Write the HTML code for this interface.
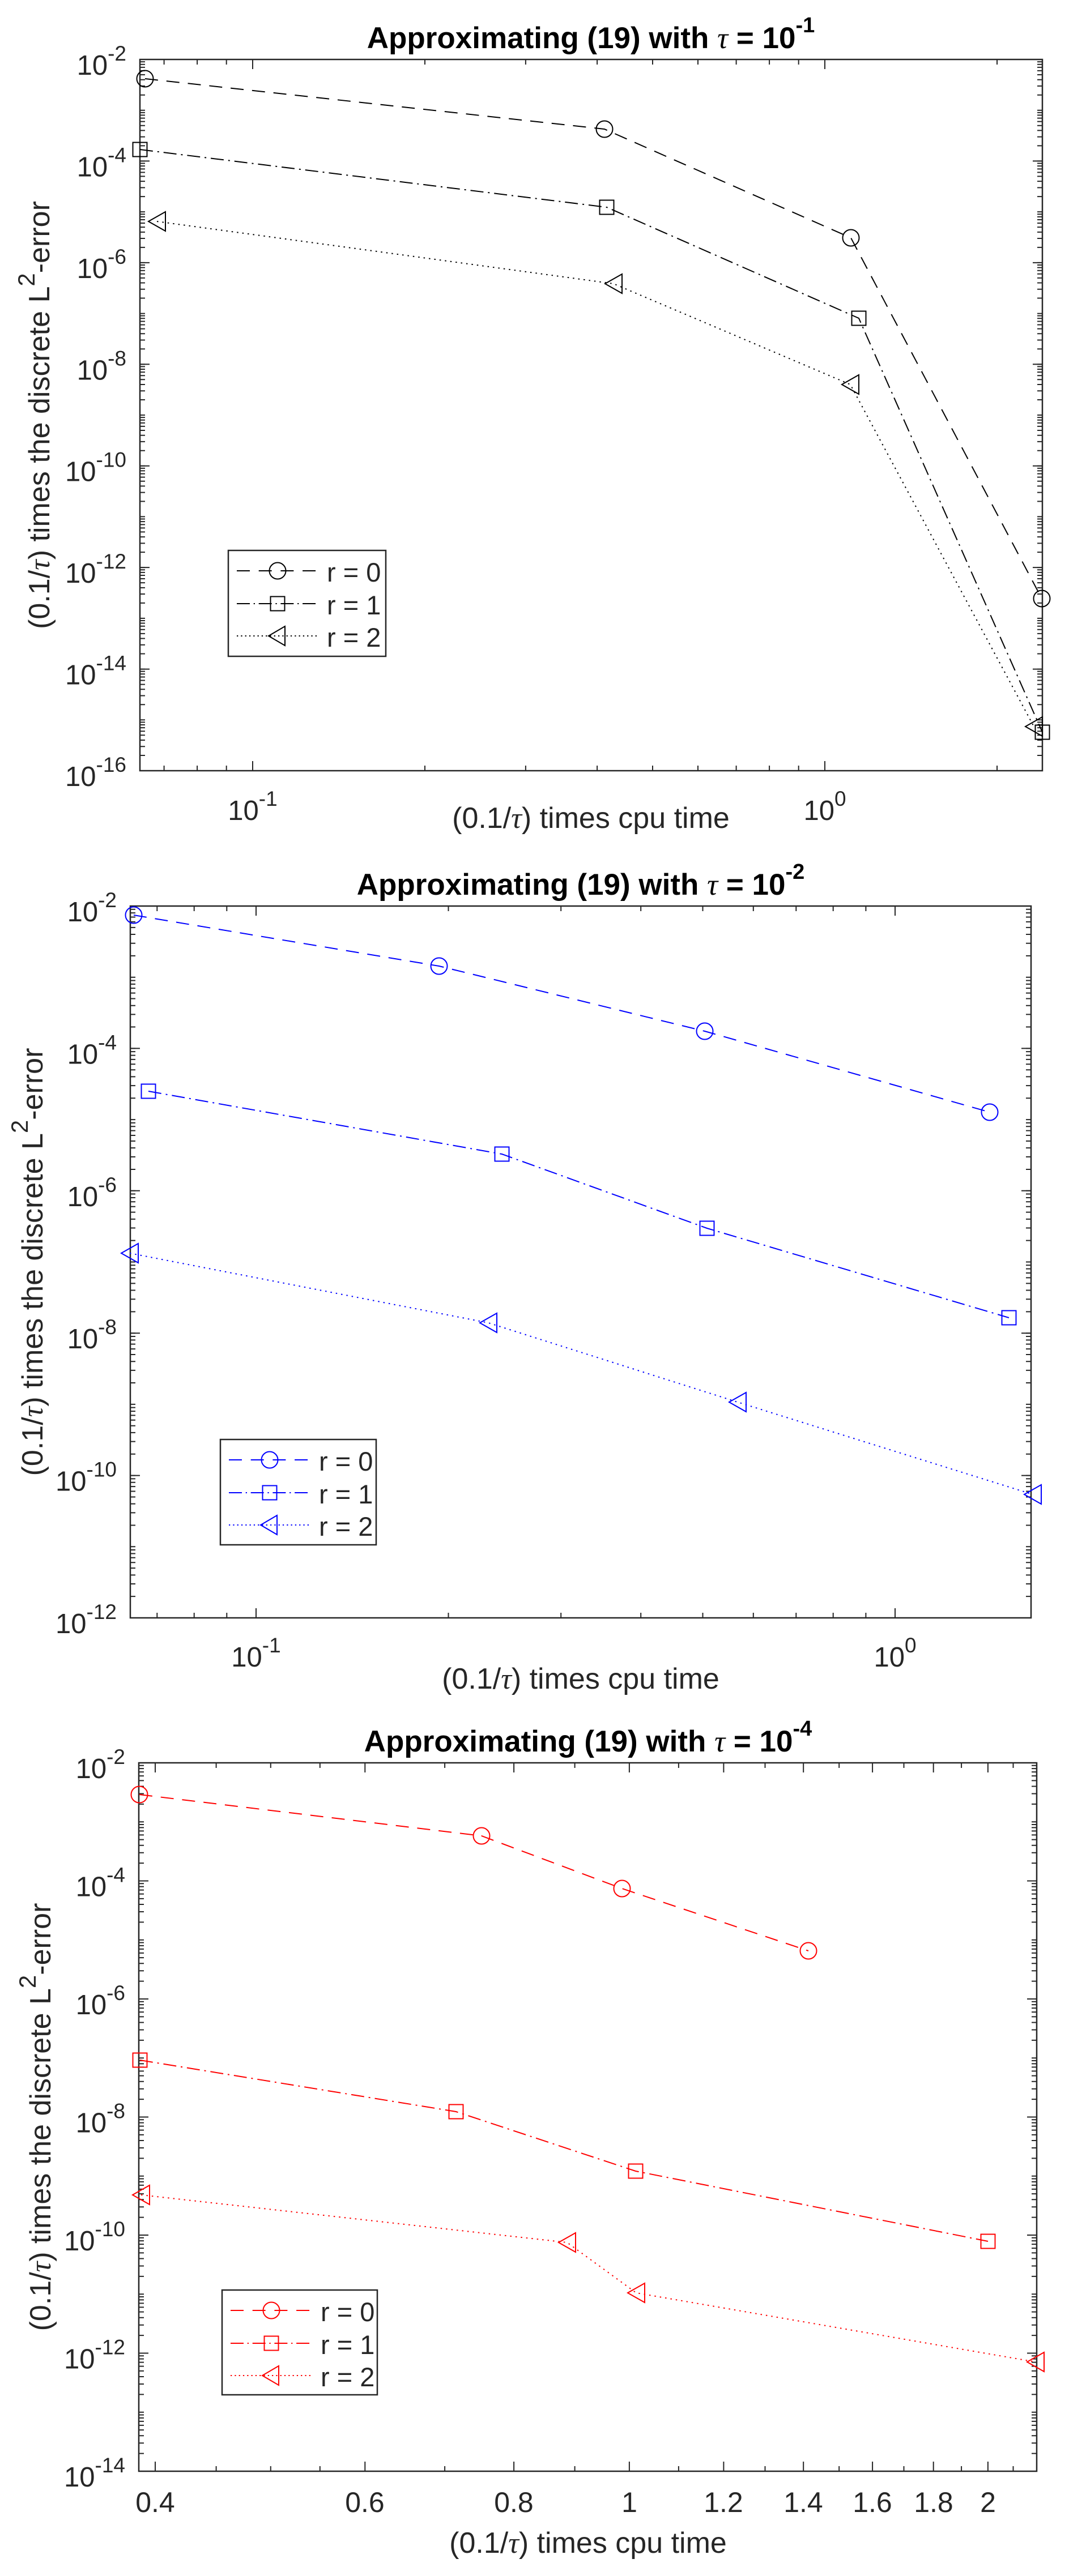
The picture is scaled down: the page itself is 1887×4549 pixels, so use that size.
<!DOCTYPE html>
<html><head><meta charset="utf-8"><style>
html,body{margin:0;padding:0;background:#fff;}
svg{display:block;}
text{font-family:"Liberation Sans",Arial,sans-serif;fill:#262626;}
.t{font-weight:bold;fill:#000;font-size:53px;}
.g{font-family:"Liberation Serif",serif;font-style:italic;font-weight:normal;}
.tk{font-size:49px;}
.lb{font-size:52px;}
.lg{font-size:47px;}
</style></head><body>
<svg xmlns="http://www.w3.org/2000/svg" xmlns:xlink="http://www.w3.org/1999/xlink" width="1887" height="4549" viewBox="0 0 1887 4549">
<defs>
<path id="y1m" d="M247 0h9M1840 0h-9M247 -27.01h9M1840 -27.01h-9M247 -42.80h9M1840 -42.80h-9M247 -54.01h9M1840 -54.01h-9M247 -62.71h9M1840 -62.71h-9M247 -69.81h9M1840 -69.81h-9M247 -75.82h9M1840 -75.82h-9M247 -81.02h9M1840 -81.02h-9M247 -85.61h9M1840 -85.61h-9" stroke="#262626" stroke-width="2" fill="none"/>
<path id="y2m" d="M230 0h9M1820 0h-9M230 -37.84h9M1820 -37.84h-9M230 -59.97h9M1820 -59.97h-9M230 -75.68h9M1820 -75.68h-9M230 -87.86h9M1820 -87.86h-9M230 -97.81h9M1820 -97.81h-9M230 -106.23h9M1820 -106.23h-9M230 -113.52h9M1820 -113.52h-9M230 -119.95h9M1820 -119.95h-9" stroke="#262626" stroke-width="2" fill="none"/>
<path id="y3m" d="M245 0h9M1830 0h-9M245 -31.38h9M1830 -31.38h-9M245 -49.74h9M1830 -49.74h-9M245 -62.76h9M1830 -62.76h-9M245 -72.87h9M1830 -72.87h-9M245 -81.12h9M1830 -81.12h-9M245 -88.10h9M1830 -88.10h-9M245 -94.15h9M1830 -94.15h-9M245 -99.48h9M1830 -99.48h-9" stroke="#262626" stroke-width="2" fill="none"/>
</defs>

<!-- ================= PLOT 1 ================= -->
<g>
<use xlink:href="#y1m" href="#y1m" y="1361"/>
<use xlink:href="#y1m" href="#y1m" y="1271.29"/>
<use xlink:href="#y1m" href="#y1m" y="1181.57"/>
<use xlink:href="#y1m" href="#y1m" y="1091.86"/>
<use xlink:href="#y1m" href="#y1m" y="1002.14"/>
<use xlink:href="#y1m" href="#y1m" y="912.43"/>
<use xlink:href="#y1m" href="#y1m" y="822.71"/>
<use xlink:href="#y1m" href="#y1m" y="733"/>
<use xlink:href="#y1m" href="#y1m" y="643.29"/>
<use xlink:href="#y1m" href="#y1m" y="553.57"/>
<use xlink:href="#y1m" href="#y1m" y="463.86"/>
<use xlink:href="#y1m" href="#y1m" y="374.14"/>
<use xlink:href="#y1m" href="#y1m" y="284.43"/>
<use xlink:href="#y1m" href="#y1m" y="194.71"/>
<path stroke="#262626" stroke-width="2" fill="none" d="M247 105h17M1840 105h-17M247 284.43h17M1840 284.43h-17M247 463.86h17M1840 463.86h-17M247 643.29h17M1840 643.29h-17M247 822.71h17M1840 822.71h-17M247 1002.14h17M1840 1002.14h-17M247 1181.57h17M1840 1181.57h-17
M289.6 1361v-9M289.6 105v9M348.1 1361v-9M348.1 105v9M399.7 1361v-9M399.7 105v9M750 1361v-9M750 105v9M927.9 1361v-9M927.9 105v9M1054.1 1361v-9M1054.1 105v9M1152 1361v-9M1152 105v9M1232 1361v-9M1232 105v9M1299.6 1361v-9M1299.6 105v9M1358.1 1361v-9M1358.1 105v9M1409.7 1361v-9M1409.7 105v9M1760 1361v-9M1760 105v9
M446 1361v-17M446 105v17M1456 1361v-17M1456 105v17"/>
<rect x="247" y="105" width="1593" height="1256" fill="none" stroke="#262626" stroke-width="2.5"/>

<text class="tk" x="223" y="132" text-anchor="end">10<tspan font-size="37" dy="-25">-2</tspan></text>
<text class="tk" x="223" y="311.4" text-anchor="end">10<tspan font-size="37" dy="-25">-4</tspan></text>
<text class="tk" x="223" y="490.9" text-anchor="end">10<tspan font-size="37" dy="-25">-6</tspan></text>
<text class="tk" x="223" y="670.3" text-anchor="end">10<tspan font-size="37" dy="-25">-8</tspan></text>
<text class="tk" x="223" y="849.7" text-anchor="end">10<tspan font-size="37" dy="-25">-10</tspan></text>
<text class="tk" x="223" y="1029.1" text-anchor="end">10<tspan font-size="37" dy="-25">-12</tspan></text>
<text class="tk" x="223" y="1208.6" text-anchor="end">10<tspan font-size="37" dy="-25">-14</tspan></text>
<text class="tk" x="223" y="1388" text-anchor="end">10<tspan font-size="37" dy="-25">-16</tspan></text>
<text class="tk" x="446" y="1448" text-anchor="middle">10<tspan font-size="37" dy="-25">-1</tspan></text>
<text class="tk" x="1456" y="1448" text-anchor="middle">10<tspan font-size="37" dy="-25">0</tspan></text>

<text class="t" x="1043" y="85" text-anchor="middle">Approximating (19) with <tspan class="g">τ</tspan> = 10<tspan font-size="38" dy="-28">-1</tspan></text>
<text class="lb" x="1043" y="1462" text-anchor="middle">(0.1/<tspan class="g">τ</tspan>) times cpu time</text>
<text class="lb" transform="translate(87,733) rotate(-90)" text-anchor="middle">(0.1/<tspan class="g">τ</tspan>) times the discrete L<tspan font-size="42" dy="-26">2</tspan><tspan dy="26">-error</tspan></text>

<g fill="none" stroke="#000" stroke-width="2">
<polyline points="256,139 1067,228 1502,420 1839,1057" stroke-dasharray="23 15"/>
<polyline points="247,264 1071,366 1516,562 1840,1293" stroke-dasharray="23 8 3 8"/>
<polyline points="277,391 1083,501 1501,679 1825,1283" stroke-dasharray="2.5 7"/>
<circle cx="256" cy="139" r="14.5"/><circle cx="1067" cy="228" r="14.5"/><circle cx="1502" cy="420" r="14.5"/><circle cx="1839" cy="1057" r="14.5"/>
<rect x="234.5" y="251.5" width="25" height="25"/><rect x="1058.5" y="353.5" width="25" height="25"/><rect x="1503.5" y="549.5" width="25" height="25"/><rect x="1827.5" y="1280.5" width="25" height="25"/>
<polygon points="262,391 292,374 292,408"/><polygon points="1068,501 1098,484 1098,518"/><polygon points="1486,679 1516,662 1516,696"/><polygon points="1810,1283 1840,1266 1840,1300"/>
</g>

<rect x="403" y="972" width="278" height="187" fill="#fff" stroke="#262626" stroke-width="2.5"/>
<g fill="none" stroke="#000" stroke-width="2">
<line x1="418" y1="1008" x2="560" y2="1008" stroke-dasharray="23 15.7"/>
<circle cx="490" cy="1008" r="14.5"/>
<line x1="418" y1="1066" x2="560" y2="1066" stroke-dasharray="23 6.7 2.3 6.7"/>
<rect x="477.5" y="1053.5" width="25" height="25"/>
<line x1="418" y1="1123" x2="560" y2="1123" stroke-dasharray="2.3 5"/>
<polygon points="474,1123 503,1106 503,1140"/>
</g>
<text class="lg" x="577" y="1027">r = 0</text>
<text class="lg" x="577" y="1085">r = 1</text>
<text class="lg" x="577" y="1142">r = 2</text>
</g>

<!-- ================= PLOT 2 ================= -->
<g>
<use xlink:href="#y2m" href="#y2m" y="2857"/>
<use xlink:href="#y2m" href="#y2m" y="2731.3"/>
<use xlink:href="#y2m" href="#y2m" y="2605.6"/>
<use xlink:href="#y2m" href="#y2m" y="2479.9"/>
<use xlink:href="#y2m" href="#y2m" y="2354.2"/>
<use xlink:href="#y2m" href="#y2m" y="2228.5"/>
<use xlink:href="#y2m" href="#y2m" y="2102.8"/>
<use xlink:href="#y2m" href="#y2m" y="1977.1"/>
<use xlink:href="#y2m" href="#y2m" y="1851.4"/>
<use xlink:href="#y2m" href="#y2m" y="1725.7"/>
<path stroke="#262626" stroke-width="2" fill="none" d="M230 1600h17M1820 1600h-17M230 1851.4h17M1820 1851.4h-17M230 2102.8h17M1820 2102.8h-17M230 2354.2h17M1820 2354.2h-17M230 2605.6h17M1820 2605.6h-17
M277.3 2857v-9M277.3 1600v9M342.7 2857v-9M342.7 1600v9M400.3 2857v-9M400.3 1600v9M791.5 2857v-9M791.5 1600v9M990.2 2857v-9M990.2 1600v9M1131.2 2857v-9M1131.2 1600v9M1240.5 2857v-9M1240.5 1600v9M1329.8 2857v-9M1329.8 1600v9M1405.3 2857v-9M1405.3 1600v9M1470.7 2857v-9M1470.7 1600v9M1528.4 2857v-9M1528.4 1600v9
M452 2857v-17M452 1600v17M1580 2857v-17M1580 1600v17"/>
<rect x="230" y="1600" width="1590" height="1257" fill="none" stroke="#262626" stroke-width="2.5"/>

<text class="tk" x="206" y="1627" text-anchor="end">10<tspan font-size="37" dy="-25">-2</tspan></text>
<text class="tk" x="206" y="1878.4" text-anchor="end">10<tspan font-size="37" dy="-25">-4</tspan></text>
<text class="tk" x="206" y="2129.8" text-anchor="end">10<tspan font-size="37" dy="-25">-6</tspan></text>
<text class="tk" x="206" y="2381.2" text-anchor="end">10<tspan font-size="37" dy="-25">-8</tspan></text>
<text class="tk" x="206" y="2632.6" text-anchor="end">10<tspan font-size="37" dy="-25">-10</tspan></text>
<text class="tk" x="206" y="2884" text-anchor="end">10<tspan font-size="37" dy="-25">-12</tspan></text>
<text class="tk" x="452" y="2943" text-anchor="middle">10<tspan font-size="37" dy="-25">-1</tspan></text>
<text class="tk" x="1580" y="2943" text-anchor="middle">10<tspan font-size="37" dy="-25">0</tspan></text>

<text class="t" x="1025" y="1580" text-anchor="middle">Approximating (19) with <tspan class="g">τ</tspan> = 10<tspan font-size="38" dy="-28">-2</tspan></text>
<text class="lb" x="1025" y="2982" text-anchor="middle">(0.1/<tspan class="g">τ</tspan>) times cpu time</text>
<text class="lb" transform="translate(75,2228.5) rotate(-90)" text-anchor="middle">(0.1/<tspan class="g">τ</tspan>) times the discrete L<tspan font-size="42" dy="-26">2</tspan><tspan dy="26">-error</tspan></text>

<g fill="none" stroke="#0000ff" stroke-width="2">
<polyline points="236,1616 775,1706 1244,1821 1747,1964" stroke-dasharray="23 15"/>
<polyline points="262,1927 886,2038 1248,2169 1781,2327" stroke-dasharray="23 8 3 8"/>
<polyline points="229,2213 862,2336 1302,2476 1823,2639" stroke-dasharray="2.5 7"/>
<circle cx="236" cy="1616" r="14.5"/><circle cx="775" cy="1706" r="14.5"/><circle cx="1244" cy="1821" r="14.5"/><circle cx="1747" cy="1964" r="14.5"/>
<rect x="249.5" y="1914.5" width="25" height="25"/><rect x="873.5" y="2025.5" width="25" height="25"/><rect x="1235.5" y="2156.5" width="25" height="25"/><rect x="1768.5" y="2314.5" width="25" height="25"/>
<polygon points="214,2213 244,2196 244,2230"/><polygon points="847,2336 877,2319 877,2353"/><polygon points="1287,2476 1317,2459 1317,2493"/><polygon points="1808,2639 1838,2622 1838,2656"/>
</g>

<rect x="389" y="2542" width="275" height="186" fill="#fff" stroke="#262626" stroke-width="2.5"/>
<g fill="none" stroke="#0000ff" stroke-width="2">
<line x1="404" y1="2578" x2="546" y2="2578" stroke-dasharray="23 15.7"/>
<circle cx="476" cy="2578" r="14.5"/>
<line x1="404" y1="2636" x2="546" y2="2636" stroke-dasharray="23 6.7 2.3 6.7"/>
<rect x="463.5" y="2623.5" width="25" height="25"/>
<line x1="404" y1="2693" x2="546" y2="2693" stroke-dasharray="2.3 5"/>
<polygon points="460,2693 489,2676 489,2710"/>
</g>
<text class="lg" x="563" y="2597">r = 0</text>
<text class="lg" x="563" y="2655">r = 1</text>
<text class="lg" x="563" y="2712">r = 2</text>
</g>

<!-- ================= PLOT 3 ================= -->
<g>
<use xlink:href="#y3m" href="#y3m" y="4364"/>
<use xlink:href="#y3m" href="#y3m" y="4259.75"/>
<use xlink:href="#y3m" href="#y3m" y="4155.5"/>
<use xlink:href="#y3m" href="#y3m" y="4051.25"/>
<use xlink:href="#y3m" href="#y3m" y="3947"/>
<use xlink:href="#y3m" href="#y3m" y="3842.75"/>
<use xlink:href="#y3m" href="#y3m" y="3738.5"/>
<use xlink:href="#y3m" href="#y3m" y="3634.25"/>
<use xlink:href="#y3m" href="#y3m" y="3530"/>
<use xlink:href="#y3m" href="#y3m" y="3425.75"/>
<use xlink:href="#y3m" href="#y3m" y="3321.5"/>
<use xlink:href="#y3m" href="#y3m" y="3217.25"/>
<path stroke="#262626" stroke-width="2" fill="none" d="M245 3113h17M1830 3113h-17M245 3321.5h17M1830 3321.5h-17M245 3530h17M1830 3530h-17M245 3738.5h17M1830 3738.5h-17M245 3947h17M1830 3947h-17M245 4155.5h17M1830 4155.5h-17
M381.6 4364v-9M381.6 3113v9M477.8 4364v-9M477.8 3113v9M564.8 4364v-9M564.8 3113v9M785.1 4364v-9M785.1 3113v9M1014.6 4364v-9M1014.6 3113v9M1197.9 4364v-9M1197.9 3113v9M1350.5 4364v-9M1350.5 3113v9M1481.2 4364v-9M1481.2 3113v9M1595.5 4364v-9M1595.5 3113v9M1697.1 4364v-9M1697.1 3113v9M1788.5 4364v-9M1788.5 3113v9
M274 4364v-17M274 3113v17M644.3 4364v-17M644.3 3113v17M907.1 4364v-17M907.1 3113v17M1110.9 4364v-17M1110.9 3113v17M1277.4 4364v-17M1277.4 3113v17M1418.2 4364v-17M1418.2 3113v17M1540.1 4364v-17M1540.1 3113v17M1647.7 4364v-17M1647.7 3113v17M1743.9 4364v-17M1743.9 3113v17"/>
<rect x="245" y="3113" width="1585" height="1251" fill="none" stroke="#262626" stroke-width="2.5"/>

<text class="tk" x="221" y="3140" text-anchor="end">10<tspan font-size="37" dy="-25">-2</tspan></text>
<text class="tk" x="221" y="3348.5" text-anchor="end">10<tspan font-size="37" dy="-25">-4</tspan></text>
<text class="tk" x="221" y="3557" text-anchor="end">10<tspan font-size="37" dy="-25">-6</tspan></text>
<text class="tk" x="221" y="3765.5" text-anchor="end">10<tspan font-size="37" dy="-25">-8</tspan></text>
<text class="tk" x="221" y="3974" text-anchor="end">10<tspan font-size="37" dy="-25">-10</tspan></text>
<text class="tk" x="221" y="4182.5" text-anchor="end">10<tspan font-size="37" dy="-25">-12</tspan></text>
<text class="tk" x="221" y="4391" text-anchor="end">10<tspan font-size="37" dy="-25">-14</tspan></text>

<g class="tk" text-anchor="middle" font-size="50">
<text x="274" y="4436" font-size="50">0.4</text>
<text x="644" y="4436" font-size="50">0.6</text>
<text x="907" y="4436" font-size="50">0.8</text>
<text x="1111" y="4436" font-size="50">1</text>
<text x="1277" y="4436" font-size="50">1.2</text>
<text x="1418" y="4436" font-size="50">1.4</text>
<text x="1540" y="4436" font-size="50">1.6</text>
<text x="1648" y="4436" font-size="50">1.8</text>
<text x="1744" y="4436" font-size="50">2</text>
</g>

<text class="t" x="1038" y="3093" text-anchor="middle">Approximating (19) with <tspan class="g">τ</tspan> = 10<tspan font-size="38" dy="-28">-4</tspan></text>
<text class="lb" x="1038" y="4508" text-anchor="middle">(0.1/<tspan class="g">τ</tspan>) times cpu time</text>
<text class="lb" transform="translate(89,3738.5) rotate(-90)" text-anchor="middle">(0.1/<tspan class="g">τ</tspan>) times the discrete L<tspan font-size="42" dy="-26">2</tspan><tspan dy="26">-error</tspan></text>

<g fill="none" stroke="#ff0000" stroke-width="2">
<polyline points="246,3169 850,3242 1098,3335 1427,3445" stroke-dasharray="23 15"/>
<polyline points="247,3638 805,3729 1122,3834 1744,3958" stroke-dasharray="23 8 3 8"/>
<polyline points="249,3876 1001,3960 1123,4049 1828,4171" stroke-dasharray="2.5 7"/>
<circle cx="246" cy="3169" r="14.5"/><circle cx="850" cy="3242" r="14.5"/><circle cx="1098" cy="3335" r="14.5"/><circle cx="1427" cy="3445" r="14.5"/>
<rect x="234.5" y="3625.5" width="25" height="25"/><rect x="792.5" y="3716.5" width="25" height="25"/><rect x="1109.5" y="3821.5" width="25" height="25"/><rect x="1731.5" y="3945.5" width="25" height="25"/>
<polygon points="234,3876 264,3859 264,3893"/><polygon points="986,3960 1016,3943 1016,3977"/><polygon points="1108,4049 1138,4032 1138,4066"/><polygon points="1813,4171 1843,4154 1843,4188"/>
</g>

<rect x="392" y="4044" width="274" height="185" fill="#fff" stroke="#262626" stroke-width="2.5"/>
<g fill="none" stroke="#ff0000" stroke-width="2">
<line x1="407" y1="4080" x2="549" y2="4080" stroke-dasharray="23 15.7"/>
<circle cx="479" cy="4080" r="14.5"/>
<line x1="407" y1="4138" x2="549" y2="4138" stroke-dasharray="23 6.7 2.3 6.7"/>
<rect x="466.5" y="4125.5" width="25" height="25"/>
<line x1="407" y1="4195" x2="549" y2="4195" stroke-dasharray="2.3 5"/>
<polygon points="463,4195 492,4178 492,4212"/>
</g>
<text class="lg" x="566" y="4099">r = 0</text>
<text class="lg" x="566" y="4157">r = 1</text>
<text class="lg" x="566" y="4214">r = 2</text>
</g>
</svg>
</body></html>
